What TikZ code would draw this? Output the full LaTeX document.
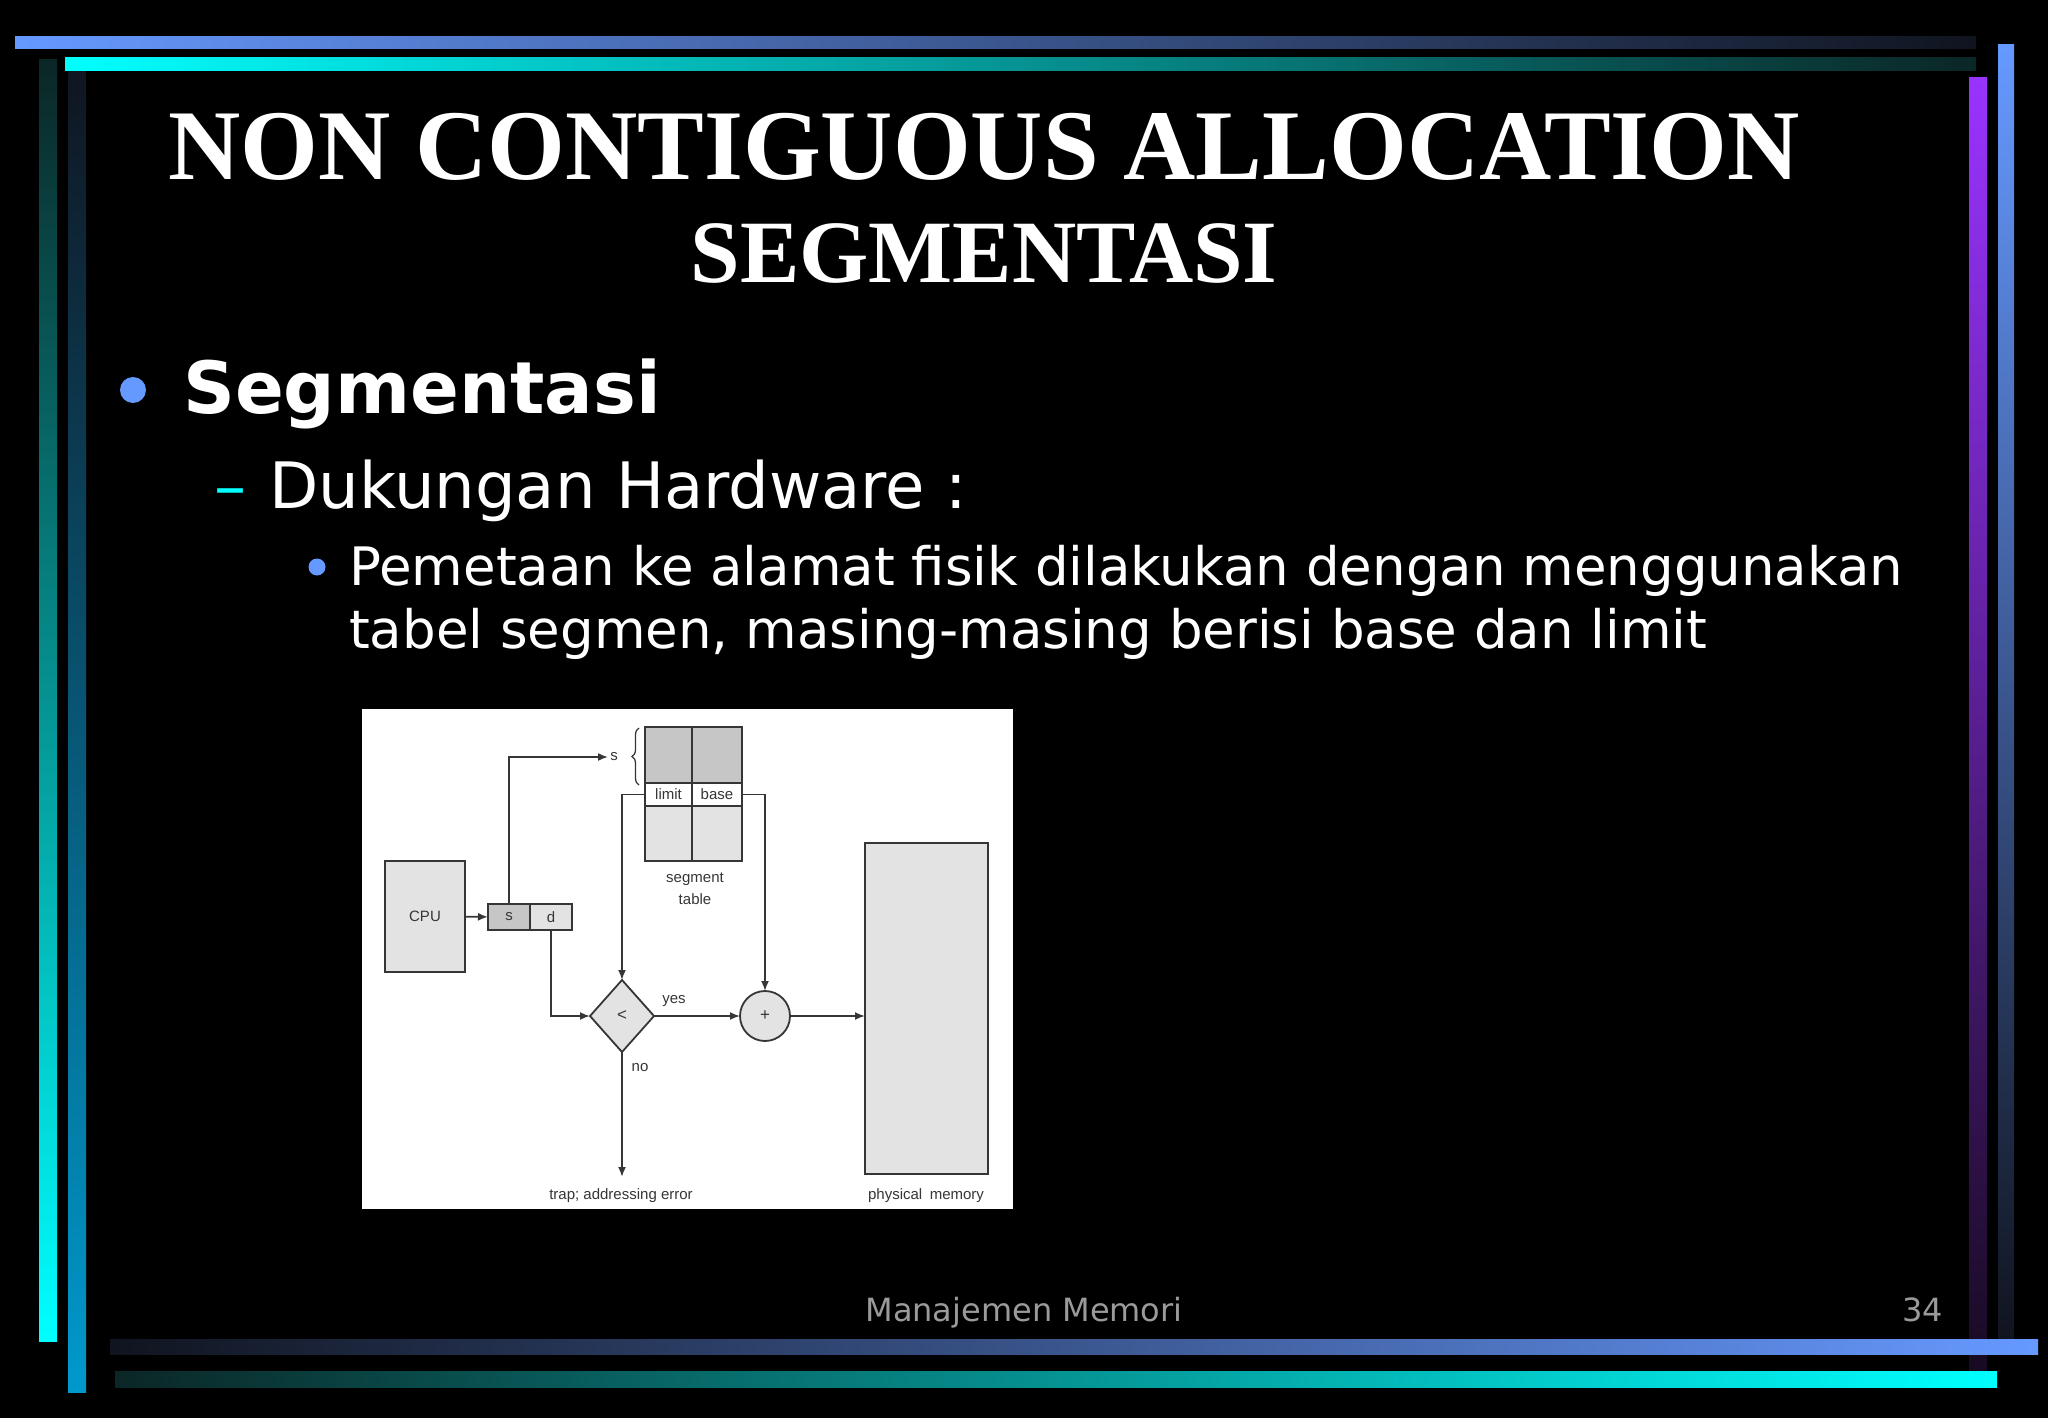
\documentclass[tikz,border=0pt]{standalone}
\usepackage{fontspec}
\setmainfont{DejaVu Sans}
\newfontfamily\titlefont{Liberation Serif}
\newfontfamily\figfont{Liberation Sans}
\usetikzlibrary{shapes,arrows.meta,decorations.pathreplacing,backgrounds,positioning,fit}

\definecolor{SlideBlue}{HTML}{6699FF}
\definecolor{SlideCyan}{HTML}{00FFFF}
\definecolor{SlidePurple}{HTML}{9933FF}
\definecolor{SlideTeal}{HTML}{0099CC}
\definecolor{DarkBlue}{HTML}{10141F}
\definecolor{DarkTeal}{HTML}{0B2626}
\definecolor{DarkPurple}{HTML}{180A22}
\definecolor{CellGray}{HTML}{C6C6C6}
\definecolor{CellLight}{HTML}{E3E3E3}
\definecolor{InkGray}{HTML}{363636}
\definecolor{FootGray}{HTML}{9A9A9A}

\begin{document}
\begin{tikzpicture}[x=1bp,y=-1bp]
			\tikzstyle{Title}	= [text=white, inner sep=0pt, font=\titlefont\bfseries\fontsize{100bp}{110bp}\selectfont]
			\tikzstyle{Subtitle}	= [text=white, inner sep=0pt, font=\titlefont\bfseries\fontsize{89bp}{96bp}\selectfont]
			\tikzstyle{Body}	= [text=white, inner sep=0pt, anchor=base west]
			\tikzstyle{Footer}	= [text=FootGray, inner sep=0pt, font=\fontsize{32bp}{36bp}\selectfont]
			\tikzstyle{Cell}	= [draw=InkGray, line width=1.8bp, rectangle, inner sep=0pt, outer sep=0pt, text=InkGray, font=\figfont\fontsize{15bp}{17bp}\selectfont]
			\tikzstyle{Dark}	= [fill=CellGray]
			\tikzstyle{Light}	= [fill=CellLight]
			\tikzstyle{Label}	= [inner sep=2bp, text=InkGray, font=\figfont\fontsize{15bp}{22bp}\selectfont]
			\tikzstyle{Arrow}	= [draw=InkGray, line width=1.8bp, -{Latex[length=10bp,width=8bp]}]
			
			% slide background and frame bars
			\fill[black] (0,0) rectangle (2048,1418);
			\useasboundingbox (0,0) rectangle (2048,1418);
			\shade[top color=DarkTeal, bottom color=SlideCyan] (39,60) rectangle (57,1341);
			\shade[top color=DarkBlue, bottom color=SlideTeal] (68,60) rectangle (86,1392);
			\shade[top color=SlidePurple, bottom color=DarkPurple] (1969,78) rectangle (1987,1370);
			\shade[top color=SlideBlue, bottom color=DarkBlue] (1998,45) rectangle (2014,1339);
			\shade[left color=SlideBlue, right color=DarkBlue] (15,37) rectangle (1976,49);
			\shade[left color=SlideCyan, right color=DarkTeal] (65,58) rectangle (1976,71);
			\shade[left color=DarkBlue, right color=SlideBlue] (110,1339) rectangle (2038,1354);
			\shade[left color=DarkTeal, right color=SlideCyan] (115,1371) rectangle (1997,1387);
			
			% titles
			\node (title) at (984,180) [Title, anchor=base] {NON CONTIGUOUS ALLOCATION};
			\node (subtitle) at (984,283) [Subtitle, anchor=base] {SEGMENTASI};
			
			% bullets
			\fill[SlideBlue] (133,390) circle (13);
			\node (seg) at (183,413) [Body, font=\bfseries\fontsize{72bp}{80bp}\selectfont] {Segmentasi};
			\node (dash) at (214,508) [Body, text=SlideCyan, font=\fontsize{64bp}{72bp}\selectfont] {–};
			\node (hw) at (269,508) [Body, font=\fontsize{64bp}{72bp}\selectfont] {Dukungan Hardware :};
			\fill[SlideBlue] (317,567) circle (8.5);
			\node (line1) at (349,585) [Body, font=\fontsize{53bp}{63bp}\selectfont] {Pemetaan ke alamat fisik dilakukan dengan menggunakan};
			\node (line2) at (349,648) [Body, font=\fontsize{53bp}{63bp}\selectfont] {tabel segmen, masing-masing berisi base dan limit};
			
			% figure panel
			\fill[white] (362,709) rectangle (1013,1209);
			
			\node (cpu) at (425,916.5) [Cell][Light, minimum width=80bp, minimum height=111bp] {CPU};
			\node (regs) at (509,917) [Cell][Dark, minimum width=42bp, minimum height=26bp] {s};
			\node (regd) [Cell][Light, minimum width=42bp, minimum height=26bp, right=0pt of regs] {d};
			
			\node (tabtl) at (668.5,755) [Cell][Dark, minimum width=47bp, minimum height=56bp] {};
			\node (tabtr) [Cell][Dark, minimum width=50bp, minimum height=56bp, right=0pt of tabtl] {};
			\node (limit) [Cell][fill=white, minimum width=47bp, minimum height=23bp, below=0pt of tabtl] {limit};
			\node (base) [Cell][fill=white, minimum width=50bp, minimum height=23bp, right=0pt of limit] {base};
			\node (tabbl) [Cell][Light, minimum width=47bp, minimum height=55bp, below=0pt of limit] {};
			\node (tabbr) [Cell][Light, minimum width=50bp, minimum height=55bp, right=0pt of tabbl] {};
			\node (tablbl) at (695,889) [Label, align=center] {segment\\table};
			
			\node (slbl) at (614,757) [Label] {s};
			\draw[InkGray, line width=1.3bp, decorate, decoration={brace, amplitude=7bp}] (639,785) -- (639,728);
			
			\node (cmp) at (622,1016) [Cell][Light, diamond, minimum width=64bp, minimum height=72bp, font=\figfont\fontsize{17bp}{17bp}\selectfont] {<};
			\node (add) at (765,1016) [Cell][Light, circle, minimum size=50bp, font=\figfont\fontsize{17bp}{17bp}\selectfont] {+};
			\node (mem) at (926.5,1008.5) [Cell][Light, minimum width=123bp, minimum height=331bp] {};
			
			\node (yes) at (674,1001) [Label] {yes};
			\node (no) at (640,1068) [Label] {no};
			\node (trap) at (621,1196) [Label] {trap; addressing error};
			\node (memlbl) at (926,1196) [Label] {physical\enspace memory};
			\coordinate (trapend) at (622,1177);
			
			\draw [Arrow] (cpu) to (regs);
			\draw [Arrow] (regs.north) |- (slbl.west);
			\draw [Arrow] (limit.west) -| (cmp.north);
			\draw [Arrow] (base.east) -| (add.north);
			\draw [Arrow] (regd.south) |- (cmp.west);
			\draw [Arrow] (cmp) to (add);
			\draw [Arrow] (add.east) to (add.east -| mem.west);
			\draw [Arrow] (cmp.south) to (trapend);
			
			% footer
			\node (foot) at (1024,1321) [Footer, anchor=base] {Manajemen Memori};
			\node (pageno) at (1943,1321) [Footer, anchor=base east] {34};
		\end{tikzpicture}
\end{document}
